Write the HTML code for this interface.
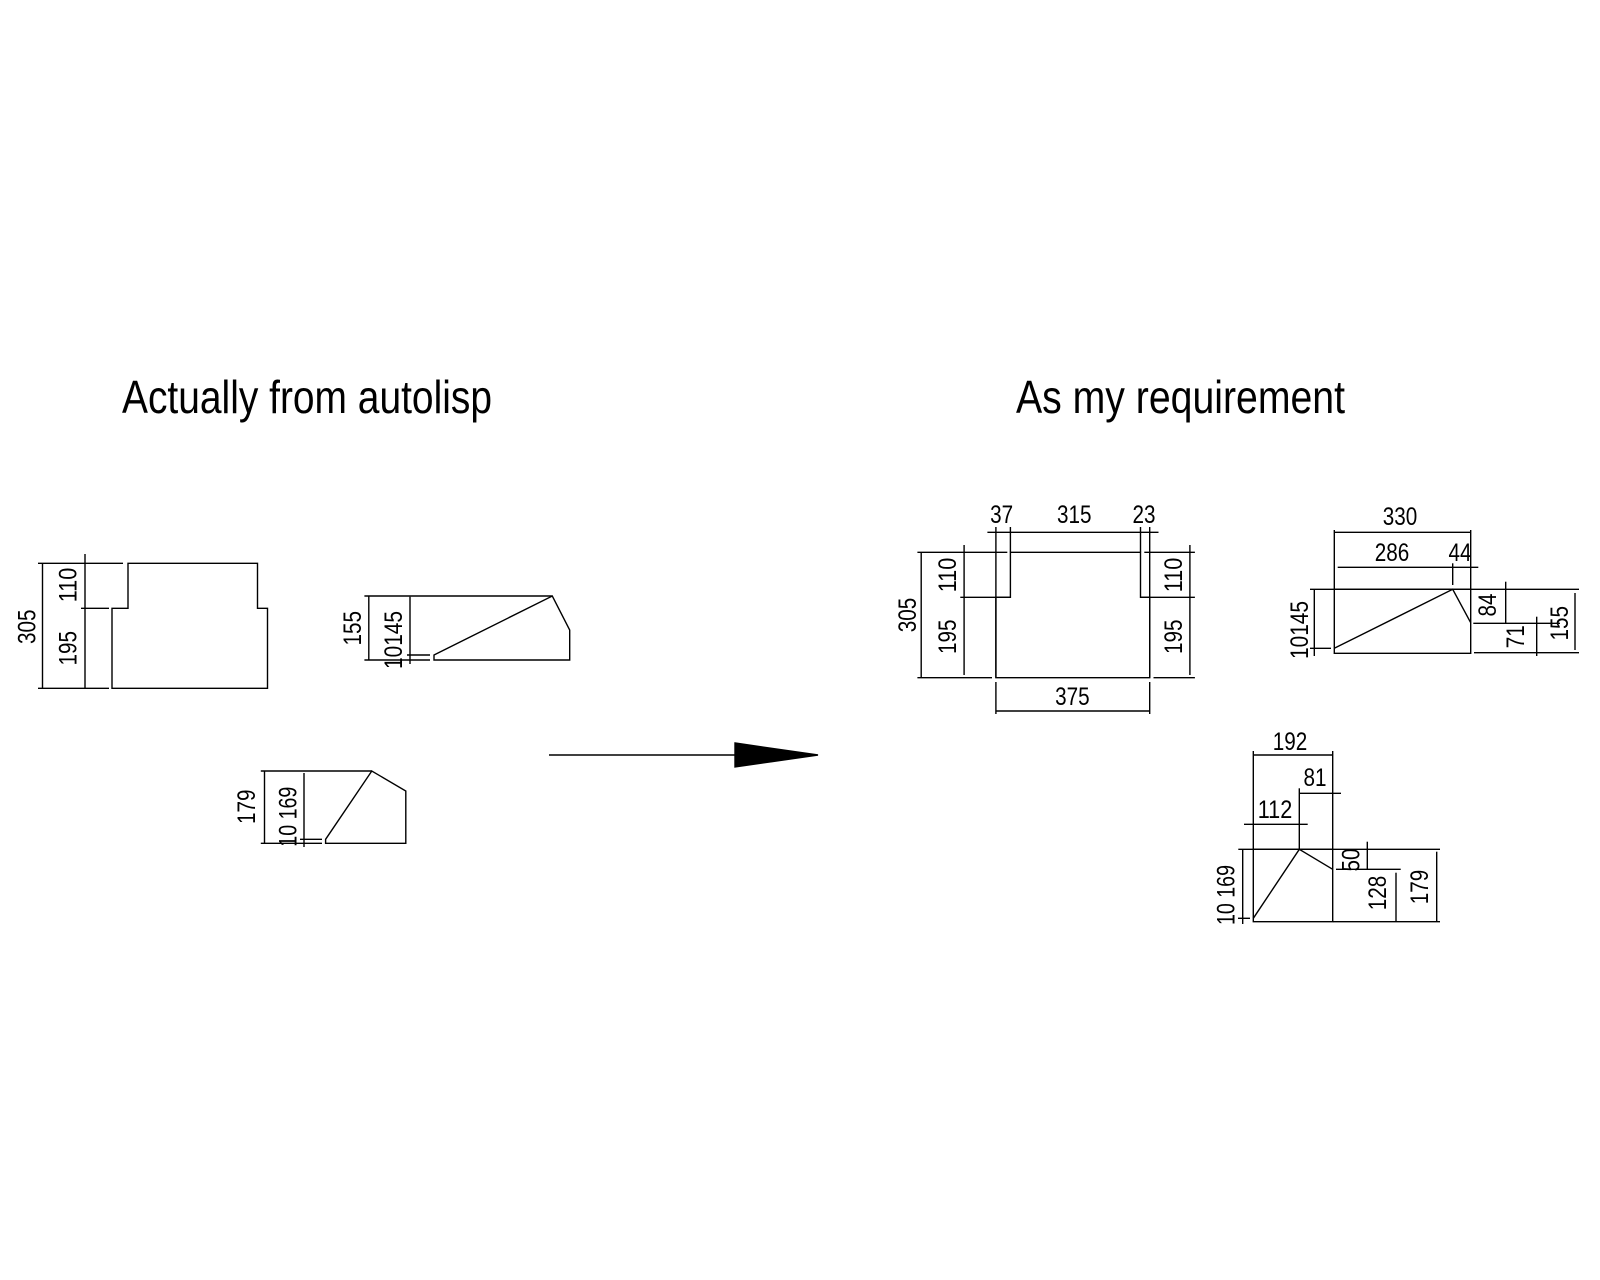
<!DOCTYPE html>
<html><head><meta charset="utf-8"><style>
html,body{margin:0;padding:0;background:#fff;}
svg{display:block;}
text{font-family:"Liberation Sans",Arial,sans-serif;fill:#000;}
.d{font-size:25px;}
.t{font-size:46px;}
</style></head><body>
<svg width="1600" height="1280" viewBox="0 0 1600 1280" xmlns="http://www.w3.org/2000/svg">
<g fill="none" stroke="#000" stroke-width="1.4">
<!-- Shape 1 -->
<polygon points="128,563.3 257.5,563.3 257.5,608.3 267.5,608.3 267.5,688.3 112,688.3 112,608.3 128,608.3"/>
<line x1="38" y1="563.3" x2="123" y2="563.3"/>
<line x1="38" y1="688.3" x2="109" y2="688.3"/>
<line x1="42.5" y1="563.3" x2="42.5" y2="688.3"/>
<line x1="85" y1="554" x2="85" y2="688.3"/>
<line x1="81" y1="608.3" x2="109" y2="608.3"/>
<!-- Shape 2 -->
<polygon points="434,655 552.3,596 569.7,630 569.7,660 434,660"/>
<line x1="364.4" y1="596" x2="552.3" y2="596"/>
<line x1="364.4" y1="660" x2="430" y2="660"/>
<line x1="407" y1="655" x2="430" y2="655"/>
<line x1="368.8" y1="596" x2="368.8" y2="660"/>
<line x1="410" y1="596.7" x2="410" y2="664"/>
<!-- Shape 3 -->
<polygon points="325.6,839.3 371.8,771 405.8,791 405.8,843.3 325.6,843.3"/>
<line x1="260.8" y1="771" x2="371.8" y2="771"/>
<line x1="260.8" y1="843.3" x2="322" y2="843.3"/>
<line x1="300" y1="839.3" x2="322" y2="839.3"/>
<line x1="264.5" y1="771" x2="264.5" y2="843.3"/>
<line x1="304" y1="773" x2="304" y2="847"/>
<!-- Arrow -->
<line x1="549" y1="755" x2="740" y2="755"/>
<polygon points="735,743 818,755 735,767" fill="#000"/>
<!-- Shape A -->
<polygon points="1010.4,552.3 1140.5,552.3 1140.5,597.3 1149.7,597.3 1149.7,677.7 995.9,677.7 995.9,597.3 1010.4,597.3"/>
<line x1="987.4" y1="532.3" x2="1158.5" y2="532.3"/>
<line x1="995.9" y1="527" x2="995.9" y2="677.7"/>
<line x1="995.9" y1="682" x2="995.9" y2="714"/>
<line x1="1149.7" y1="527" x2="1149.7" y2="677.7"/>
<line x1="1149.7" y1="682" x2="1149.7" y2="714"/>
<line x1="1010.4" y1="527" x2="1010.4" y2="552.3"/>
<line x1="1140.5" y1="527" x2="1140.5" y2="552.3"/>
<line x1="917.4" y1="552.3" x2="1007.3" y2="552.3"/>
<line x1="1144.3" y1="552.3" x2="1194.9" y2="552.3"/>
<line x1="960.3" y1="597.3" x2="1010.4" y2="597.3"/>
<line x1="1140.5" y1="597.3" x2="1194.9" y2="597.3"/>
<line x1="917.4" y1="677.7" x2="992" y2="677.7"/>
<line x1="1153.5" y1="677.7" x2="1194.9" y2="677.7"/>
<line x1="921.2" y1="552.3" x2="921.2" y2="677.7"/>
<line x1="964.1" y1="545" x2="964.1" y2="675"/>
<line x1="1189.9" y1="545" x2="1189.9" y2="675"/>
<line x1="995.9" y1="711" x2="1149.7" y2="711"/>
<!-- Shape B -->
<polygon points="1334.3,589.3 1470.7,589.3 1470.7,653.3 1334.3,653.3"/>
<polyline points="1334.3,648.3 1452.7,589.3 1470.7,622.7"/>
<line x1="1310" y1="589.3" x2="1579" y2="589.3"/>
<line x1="1474" y1="652.7" x2="1579" y2="652.7"/>
<line x1="1334.3" y1="530" x2="1334.3" y2="589.3"/>
<line x1="1470.7" y1="530" x2="1470.7" y2="589.3"/>
<line x1="1334.3" y1="532.3" x2="1470.7" y2="532.3"/>
<line x1="1337.7" y1="567.3" x2="1478.3" y2="567.3"/>
<line x1="1452.7" y1="563.3" x2="1452.7" y2="585"/>
<line x1="1314.3" y1="589.3" x2="1314.3" y2="656"/>
<line x1="1310" y1="648.3" x2="1331" y2="648.3"/>
<line x1="1473.3" y1="623.3" x2="1560" y2="623.3"/>
<line x1="1505.7" y1="581.7" x2="1505.7" y2="623.3"/>
<line x1="1536.7" y1="616.7" x2="1536.7" y2="656"/>
<line x1="1575" y1="593" x2="1575" y2="650"/>
<!-- Shape C -->
<polygon points="1253.3,849.3 1332.7,849.3 1332.7,921.7 1253.3,921.7"/>
<polyline points="1253.3,918.3 1299.3,849.3 1332.7,869.3"/>
<line x1="1238.3" y1="849.3" x2="1440" y2="849.3"/>
<line x1="1336" y1="869.3" x2="1400.7" y2="869.3"/>
<line x1="1333" y1="921.7" x2="1440" y2="921.7"/>
<line x1="1253.3" y1="751" x2="1253.3" y2="849.3"/>
<line x1="1332.7" y1="751" x2="1332.7" y2="849.3"/>
<line x1="1253.3" y1="755" x2="1332.7" y2="755"/>
<line x1="1299.3" y1="788.3" x2="1299.3" y2="849.3"/>
<line x1="1299.3" y1="793.3" x2="1341" y2="793.3"/>
<line x1="1244" y1="824.3" x2="1307.7" y2="824.3"/>
<line x1="1367.3" y1="841.7" x2="1367.3" y2="869.3"/>
<line x1="1396" y1="872.7" x2="1396" y2="921"/>
<line x1="1436.7" y1="851.7" x2="1436.7" y2="921"/>
<line x1="1242.7" y1="850" x2="1242.7" y2="924"/>
<line x1="1238" y1="918.3" x2="1250" y2="918.3"/>
</g>
<!-- Titles -->
<text class="t" x="122" y="413" textLength="370" lengthAdjust="spacingAndGlyphs">Actually from autolisp</text>
<text class="t" x="1016" y="413" textLength="329" lengthAdjust="spacingAndGlyphs">As my requirement</text>
<!-- Dimension texts (horizontal) -->
<g class="d" text-anchor="middle" dominant-baseline="central">
<text x="1001.6" y="515" textLength="23" lengthAdjust="spacingAndGlyphs">37</text>
<text x="1074.3" y="515" textLength="34.5" lengthAdjust="spacingAndGlyphs">315</text>
<text x="1144" y="515" textLength="23" lengthAdjust="spacingAndGlyphs">23</text>
<text x="1072.4" y="697" textLength="34.5" lengthAdjust="spacingAndGlyphs">375</text>
<text x="1400" y="517" textLength="34.5" lengthAdjust="spacingAndGlyphs">330</text>
<text x="1392" y="553" textLength="34.5" lengthAdjust="spacingAndGlyphs">286</text>
<text x="1460" y="553" textLength="23" lengthAdjust="spacingAndGlyphs">44</text>
<text x="1290" y="742" textLength="34.5" lengthAdjust="spacingAndGlyphs">192</text>
<text x="1315" y="778" textLength="23" lengthAdjust="spacingAndGlyphs">81</text>
<text x="1275" y="810" textLength="34.5" lengthAdjust="spacingAndGlyphs">112</text>
</g>
<!-- Rotated texts -->
<g class="d" text-anchor="middle" dominant-baseline="central">
<text transform="translate(27.7,626.7) rotate(-90)" textLength="34.5" lengthAdjust="spacingAndGlyphs">305</text>
<text transform="translate(68.4,585) rotate(-90)" textLength="34.5" lengthAdjust="spacingAndGlyphs">110</text>
<text transform="translate(68.4,648.3) rotate(-90)" textLength="34.5" lengthAdjust="spacingAndGlyphs">195</text>
<text transform="translate(353,628.3) rotate(-90)" textLength="34.5" lengthAdjust="spacingAndGlyphs">155</text>
<text transform="translate(394,640) rotate(-90)" textLength="58" lengthAdjust="spacingAndGlyphs">10145</text>
<text transform="translate(247,806.7) rotate(-90)" textLength="34.5" lengthAdjust="spacingAndGlyphs">179</text>
<text transform="translate(288.6,816.7) rotate(-90)" textLength="60" lengthAdjust="spacingAndGlyphs">10 169</text>
<text transform="translate(907.8,615) rotate(-90)" textLength="34.5" lengthAdjust="spacingAndGlyphs">305</text>
<text transform="translate(948,575) rotate(-90)" textLength="34.5" lengthAdjust="spacingAndGlyphs">110</text>
<text transform="translate(948,636.7) rotate(-90)" textLength="34.5" lengthAdjust="spacingAndGlyphs">195</text>
<text transform="translate(1173.8,575) rotate(-90)" textLength="34.5" lengthAdjust="spacingAndGlyphs">110</text>
<text transform="translate(1173.8,636.7) rotate(-90)" textLength="34.5" lengthAdjust="spacingAndGlyphs">195</text>
<text transform="translate(1300,630) rotate(-90)" textLength="58" lengthAdjust="spacingAndGlyphs">10145</text>
<text transform="translate(1488,605) rotate(-90)" textLength="23" lengthAdjust="spacingAndGlyphs">84</text>
<text transform="translate(1516,636.7) rotate(-90)" textLength="23" lengthAdjust="spacingAndGlyphs">71</text>
<text transform="translate(1560,623.3) rotate(-90)" textLength="34.5" lengthAdjust="spacingAndGlyphs">155</text>
<text transform="translate(1351.7,860) rotate(-90)" textLength="23" lengthAdjust="spacingAndGlyphs">50</text>
<text transform="translate(1378,893) rotate(-90)" textLength="34.5" lengthAdjust="spacingAndGlyphs">128</text>
<text transform="translate(1420,887) rotate(-90)" textLength="34.5" lengthAdjust="spacingAndGlyphs">179</text>
<text transform="translate(1226.7,895) rotate(-90)" textLength="60" lengthAdjust="spacingAndGlyphs">10 169</text>
</g>
</svg>
</body></html>
